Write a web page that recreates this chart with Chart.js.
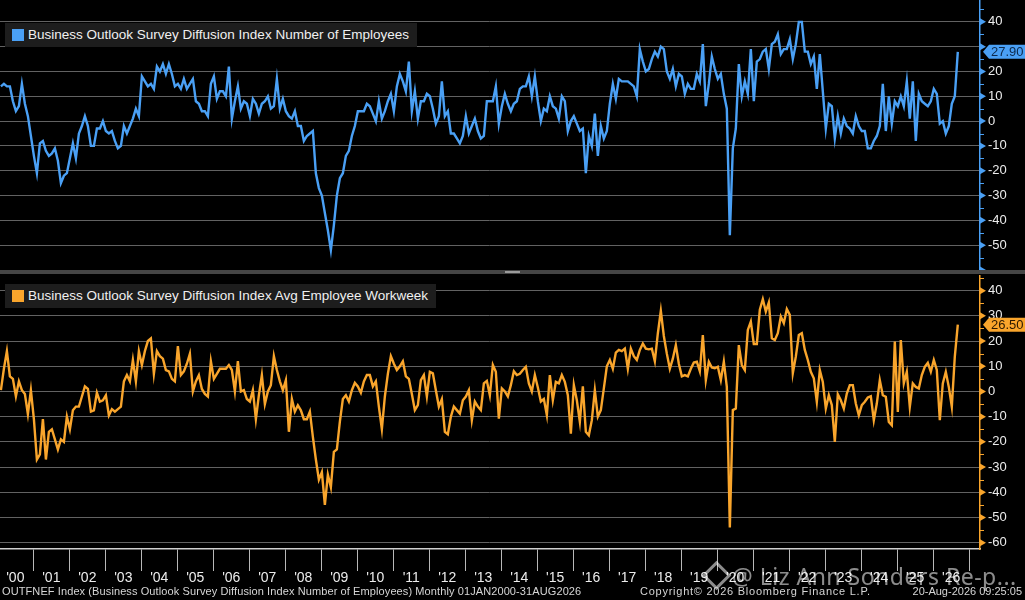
<!DOCTYPE html>
<html>
<head>
<meta charset="utf-8">
<script src="https://cdn.jsdelivr.net/npm/chart.js@4.4.1/dist/chart.umd.min.js"></script>
<style>
  html, body { margin:0; padding:0; background:#000; }
  body { width:1025px; height:600px; position:relative; overflow:hidden;
         font-family:"Liberation Sans", Arial, sans-serif; }
  .panel { position:absolute; left:0; width:1025px; }
  #topWrap { top:0; height:270px; }
  #botWrap { top:275px; height:313px; }
  .legend { position:absolute; left:5px; height:24px; background:#1d1d1d; color:#f0f0f0;
            font-size:13.5px; line-height:24px; padding:0 8px 0 23px; white-space:nowrap; }
  .legend i { position:absolute; left:7px; top:6px; width:12px; height:12px; }
  #divider { position:absolute; left:0; top:270px; width:1025px; height:4px; background:#454545; }
  #divider b { position:absolute; left:505px; top:1px; width:15px; height:2px;
               border-top:1px solid #9a9a9a; border-bottom:1px solid #9a9a9a; box-sizing:border-box; }
  .foot { position:absolute; top:585px; font-size:11px; color:#d6d6d6; white-space:nowrap; }
  #mark { position:absolute; left:732px; top:560px; font-size:23px; color:rgba(255,255,255,0.55);
          font-family:"Noto Sans", sans-serif; white-space:nowrap; letter-spacing:0.5px; }
  #logo { position:absolute; left:706px; top:565px; width:15px; height:15px;
          border:3px solid rgba(255,255,255,0.55); transform:rotate(45deg); }
</style>
</head>
<body>
<div class="panel" id="topWrap"><canvas id="topChart"></canvas></div>
<div id="divider"><b></b></div>
<div class="panel" id="botWrap"><canvas id="botChart"></canvas></div>

<div class="legend" style="top:23px"><i style="background:#4aa0f5"></i>Business Outlook Survey Diffusion Index Number of Employees</div>
<div class="legend" style="top:284px"><i style="background:#f9a52c"></i>Business Outlook Survey Diffusion Index Avg Employee Workweek</div>

<div id="logo"></div>
<div id="mark">@ Liz Ann Sonders Re-p...</div>

<div class="foot" style="left:2px; letter-spacing:0.1px">OUTFNEF Index (Business Outlook Survey Diffusion Index Number of Employees) Monthly 01JAN2000-31AUG2026</div>
<div class="foot" style="left:640px; letter-spacing:0.75px">Copyright© 2026 Bloomberg Finance L.P.</div>
<div class="foot" style="right:3px">20-Aug-2026 09:25:05</div>

<script>
// Year tick labels along the bottom axis (one cell per year)
var yearLabels = ["'00","'01","'02","'03","'04","'05","'06","'07","'08","'09","'10","'11","'12","'13",
                  "'14","'15","'16","'17","'18","'19","'20","'21","'22","'23","'24","'25","'26"];

// Monthly values, Jan 2000 .. Aug 2026, one row per year
var employees = [
  14, 15, 14, 14, 8, 4, 6, 15, 7, 2, -6, -14,
  -21, -9, -8, -12, -14, -13, -11, -16, -25, -22, -21, -15,
  -9, -15, -5, -2, 2, -2, -10, -10, -3, -3, 0, -4,
  -5, -4, -8, -11, -10, -2, -5, -2, 1, 5, 2, 18,
  16, 14, 15, 13, 22, 20, 23, 19, 23, 19, 14, 15,
  13, 17, 13, 15, 17, 8, 7, 4, 4, 2, 15, 18,
  9, 12, 12, 10, 22, 1, 8, 14, 5, 8, 7, 2,
  9, 7, 3, 7, 8, 10, 5, 6, 17, 5, 9, 4,
  2, 1, 4, -2, -2, -8, -6, -5, -4, -21, -27, -30,
  -37, -44, -52, -42, -30, -23, -21, -14, -12, -6, -2, 4,
  4, 4, 7, 6, 3, 0, 8, 1, 4, 8, 11, 4,
  14, 19, 16, 12, 24, 4, 12, 1, 8, 8, 11, 10,
  5, -1, 2, 16, 2, 4, -5, -5, -7, -9, -6, 2,
  -5, -2, 1, -4, -7, -6, 8, 8, 8, 14, -1, 6,
  11, 7, 4, 7, 8, 13, 14, 14, 18, 10, 18, 8,
  0, 5, 4, 10, 6, 5, 1, 10, 8, -4, 0, 2,
  -1, -4, -3, -21, -6, -10, 3, -14, -2, -7, -4, 7,
  15, 9, 17, 16, 16, 16, 15, 14, 10, 29, 24, 20,
  21, 25, 28, 26, 30, 29, 20, 17, 21, 14, 19, 18,
  11, 15, 13, 13, 19, 16, 31, 6, 15, 26, 21, 17,
  19, 11, 5, -46, -11, -3, 23, 10, 16, 11, 29, 8,
  24, 25, 28, 29, 21, 31, 32, 35, 27, 29, 29, 33,
  25, 31, 40, 40, 28, 28, 23, 26, 13, 27, 12, -3,
  7, 6, -7, 2, -5, 1, -2, -3, -5, 2, -2, -4,
  -4, -11, -11, -8, -6, -2, 15, -4, 10, -1, 8, 6,
  10, 6, 16, 1, 16, -8, 11, 8, 7, 6, 8, 13,
  11, -1, 0, -5, -2, 7, 10, 27.9
];

var workweek = [
  0.5, 9, 16, 6, 5, -2, 4, 0.5, -1, -9, 0.5, -11,
  -27, -25, -11, -27, -16, -15, -19, -23, -19, -20, -10, -15,
  -7.5, -6, -6, -2, 2, 1, -8, -7.5, -0.5, -4, -3.5, -1.5,
  -9.5, -7, -8, -7, -6, 4, 6.5, 4, 12.5, 4, 16, 10.5,
  16, 20, 21, 7, 16, 14, 13, 8.5, 8, 5, 4, 18,
  6.5, 8, 11, 15, 0, 4, 6.5, 1, -1, -2, 12, 5,
  7, 9, 9, 9, 10.5, 8.5, 0, 12, 0, 0.5, -3, -4,
  0.5, -11, -1.5, 6.5, -5, 0, 2.5, 14, 8.5, 4, 0.5, 4.5,
  -16, -3, -8, -5.5, -7.5, -11, -11, -8, -18, -27, -35, -32,
  -45, -33, -38, -24, -23, -12, -3, -1.5, -4, 0.5, 3.4, 2,
  -0.5, 4, 6.5, 6.5, 2, 4, -6, -15, -2, 7, 14, 11,
  8.5, 10, 12, 6, 5, -1, -7.4, -5.4, 4.5, 6.5, -2, 7.8,
  7.2, 0.5, -6, -3, -16, -17, -10, -6, -7.4, -8.8, -3.5, -2,
  0.5, -11.4, -4, -6, -7.4, 3.2, 4.2, -1.5, 10.5, 7.8, -10.8, 1.2,
  0, -2, 2.5, 8, 6.5, 7, 8.5, 9.8, 3.2, 0, 6.5, 1.6,
  -4, -3, -9.4, 6.5, -3.5, 3.8, 3.2, 6.5, 3.8, -1.5, -16.7, 2.5,
  -3.5, -12, 2, -16, -17.4, -11.4, 0.5, -10, -7.4, 1.2, 10, 12.5,
  9, 15.4, 16.5, 16, 17, 9, 17, 14, 12.5, 16.5, 19, 17,
  16.7, 17, 12, 23, 32, 22, 15, 9, 13, 18.4, 11, 6,
  6.5, 6, 9, 11.5, 11.8, 8, 22.4, 4.5, 11.8, 9.5, 9.2, 9.8,
  4.5, 11.8, 1.8, -54, -7.4, -6.8, 18.4, 10.5, 8.5, 24.4, 27.7, 18.8,
  18.8, 32.4, 36.6, 31.7, 35.3, 21.1, 20.4, 23.1, 29.7, 27.1, 32.7, 30.4,
  7.2, 13.8, 22.4, 23.1, 16.5, 12.5, 7.8, 5.2, -4.1, 8.5, 3.8, -6.8,
  -1.5, -5.4, -20, -1.1, -3.5, -6.8, -0.8, 2.5, 2.5, -4.8, -9.4, -5.4,
  -4.1, -2.4, -1.9, -11.4, -4.8, 4.5, -1.5, -2.1, -12.1, -13.4, 19.8, -8.1,
  20.4, 3.2, 7.8, -6.1, 3.2, 1.8, 1.2, 6.5, 9.8, 11.4, 7.8, 12.5,
  8.5, -11.4, 3.2, 7.8, 1.8, -6.1, 13.8, 26.5
];

// Right axis tick values for each panel
var topTicks = [-60, -50, -40, -30, -20, -10, 0, 10, 20, 30, 40];
var botTicks = [-60, -50, -40, -30, -20, -10, 0, 10, 20, 30, 40];

var BLUE = '#4aa0f5';
var ORANGE = '#f9a52c';
var GRID = '#626262';
var FONT = '"Liberation Sans", Arial, sans-serif';
var X_MIN = -0.3, X_MAX = 326.4;

// month index -> point
function to_points(values){
  return values.map(function(v, i){ return {x: i, y: v}; });
}

// Little triangles at the major ticks and short marks at the halves
function axis_marks(color){
  return {
    id: 'axisMarks',
    afterDraw: function(chart){
      var s = chart.scales.y, ctx = chart.ctx, x0 = chart.chartArea.right;
      ctx.save();
      ctx.fillStyle = color; ctx.strokeStyle = color; ctx.lineWidth = 1;
      for (var v = Math.ceil(s.min / 5) * 5; v <= s.max; v += 5){
        var py = s.getPixelForValue(v);
        if (v % 10 === 0){
          ctx.beginPath();
          ctx.moveTo(x0, py - 3.5); ctx.lineTo(x0 + 6, py); ctx.lineTo(x0, py + 3.5);
          ctx.closePath(); ctx.fill();
        } else {
          ctx.beginPath(); ctx.moveTo(x0, Math.round(py) + 0.5); ctx.lineTo(x0 + 4, Math.round(py) + 0.5); ctx.stroke();
        }
      }
      ctx.restore();
    }
  };
}

// Tag with the last value on the right axis
function last_value_box(color, textColor, values){
  return {
    id: 'lastValue',
    afterDraw: function(chart){
      var v = values[values.length - 1];
      var py = chart.scales.y.getPixelForValue(v), ctx = chart.ctx;
      var x0 = chart.chartArea.right + 3;
      ctx.save();
      ctx.fillStyle = color;
      ctx.beginPath();
      ctx.moveTo(x0, py); ctx.lineTo(x0 + 6, py - 7); ctx.lineTo(1025, py - 7);
      ctx.lineTo(1025, py + 7); ctx.lineTo(x0 + 6, py + 7); ctx.closePath(); ctx.fill();
      ctx.fillStyle = textColor;
      ctx.font = '13px ' + FONT;
      ctx.textBaseline = 'middle';
      ctx.fillText(v.toFixed(2), x0 + 8, py + 1);
      ctx.restore();
    }
  };
}

function y_scale(min, max, ticks, color, hide){
  return {
    position: 'right', min: min, max: max,
    afterBuildTicks: function(s){ s.ticks = ticks.map(function(v){ return {value: v}; }); },
    afterFit: function(s){ s.width = 45; s.paddingTop = 0; s.paddingBottom = 0; },
    grid: { color: GRID, lineWidth: 1, drawTicks: false },
    border: { display: true, color: color, width: 1.5 },
    ticks: { color: '#ececec', padding: 8, font: { size: 13, family: FONT },
             callback: function(v){ return hide.indexOf(v) >= 0 ? '' : String(v); } }
  };
}

Chart.defaults.font.family = FONT;

new Chart(document.getElementById('topChart'), {
  type: 'line',
  data: { datasets: [{ data: to_points(employees), borderColor: BLUE, borderWidth: 2.4,
                       pointRadius: 0, tension: 0, fill: false }] },
  options: {
    responsive: true, maintainAspectRatio: false, animation: false,
    layout: { padding: 0 },
    plugins: { legend: { display: false }, tooltip: { enabled: false } },
    scales: {
      x: { type: 'linear', min: X_MIN, max: X_MAX, display: false },
      y: y_scale(-60, 48.8, topTicks, BLUE, [-60, 30])
    }
  },
  plugins: [axis_marks(BLUE), last_value_box(BLUE, '#0d2a4d', employees)]
});

new Chart(document.getElementById('botChart'), {
  type: 'line',
  data: { datasets: [{ data: to_points(workweek), borderColor: ORANGE, borderWidth: 2.4,
                       pointRadius: 0, tension: 0, fill: false }] },
  options: {
    responsive: true, maintainAspectRatio: false, animation: false,
    layout: { padding: 0 },
    plugins: { legend: { display: false }, tooltip: { enabled: false } },
    scales: {
      x: {
        type: 'linear', min: X_MIN, max: X_MAX,
        // year separators sit at the year boundaries, labels centred in each cell
        afterBuildTicks: function(s){
          var t = [];
          for (var k = 0; k <= yearLabels.length; ++k) t.push({value: k * 12 - 1.2});
          s.ticks = t;
        },
        afterFit: function(s){ s.height = 39; s.paddingLeft = 0; s.paddingRight = 0; },
        grid: { drawOnChartArea: false, drawTicks: true, tickLength: 22, color: '#b8b8b8', lineWidth: 1 },
        border: { display: true, color: '#d0d0d0', width: 1.5 },
        ticks: { autoSkip: false, maxRotation: 0, labelOffset: 18, padding: -1, color: '#ececec',
                 font: { size: 14, family: FONT },
                 callback: function(v, i){ return yearLabels[i] || ''; } }
      },
      y: y_scale(-62.5, 46.2, botTicks, ORANGE, [])
    }
  },
  plugins: [axis_marks(ORANGE), last_value_box(ORANGE, '#2a1800', workweek)]
});
</script>
</body>
</html>
